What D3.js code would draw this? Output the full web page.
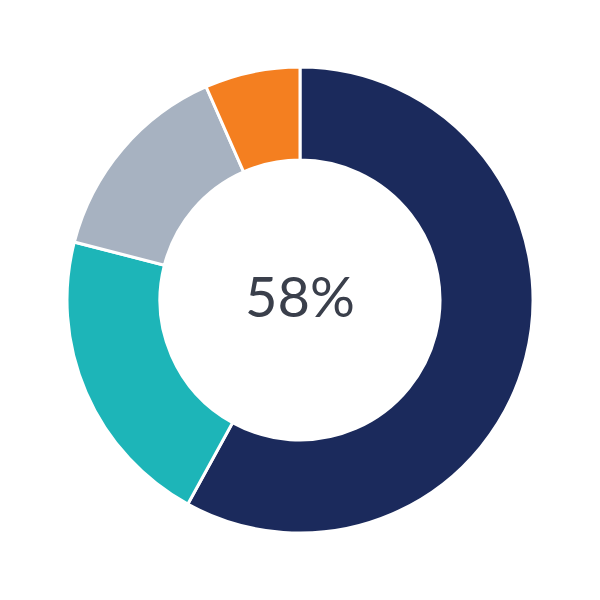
<!DOCTYPE html>
<html><head><meta charset="utf-8">
<script src="https://cdn.jsdelivr.net/npm/d3@7"></script>
<style>html,body{margin:0;padding:0;background:#fff;}</style>
</head><body>
<svg id="chart" width="600" height="600"></svg>
<script>
const categories = ["A", "B", "C", "D"];
const values = [58, 21, 14.4, 6.6];
const colors = ["#1b2a5c", "#1db5b8", "#a7b2c1", "#f47f20"];
const centerLabel = "58%";

const svg = d3.select("#chart");
const g = svg.append("g").attr("transform", "translate(300,300)");
const pie = d3.pie().sort(null).value(d => d.v);
const arc = d3.arc().innerRadius(140).outerRadius(233);
const data = categories.map((c, i) => ({c, v: values[i], col: colors[i]}));
g.selectAll("path").data(pie(data)).join("path")
  .attr("d", arc)
  .attr("fill", d => d.data.col)
  .attr("stroke", "#fff")
  .attr("stroke-width", 3);
g.append("text")
  .attr("text-anchor", "middle")
  .attr("dy", "0.3em")
  .attr("font-family", "Lato, sans-serif")
  .attr("font-weight", 400)
  .attr("font-size", 56)
  .attr("fill", "#3a3f4b")
  .text(centerLabel);
</script>
</body></html>
